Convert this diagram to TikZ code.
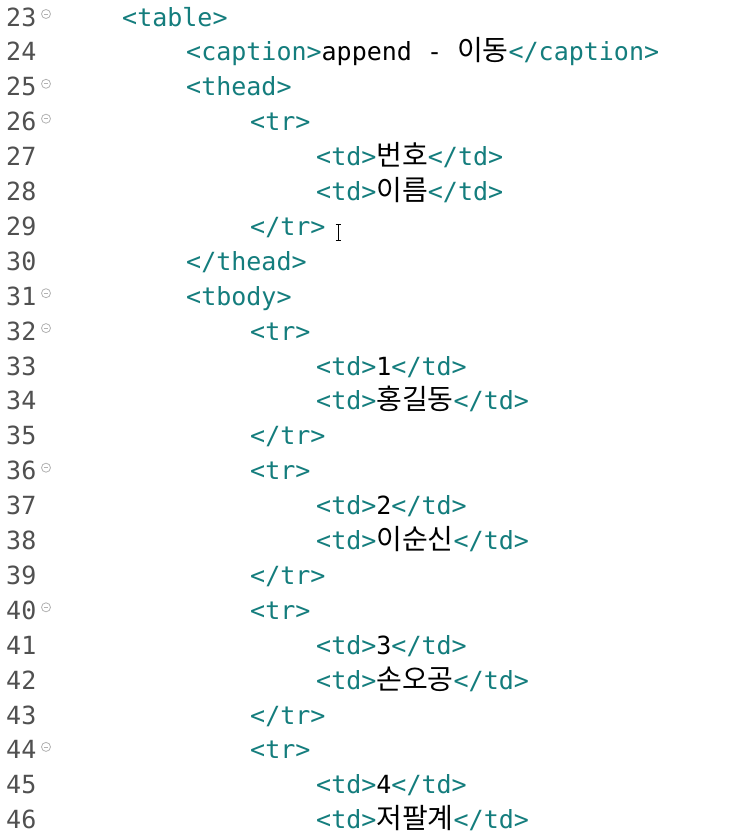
\documentclass[tikz,border=0pt]{standalone}
\usepackage{fontspec}
\setmonofont{DejaVu Sans Mono}
\newfontfamily\kr{Noto Sans CJK KR}[Scale=1.12]
\definecolor{tagc}{RGB}{20,125,125}
\definecolor{numc}{RGB}{80,80,80}
\newcommand{\Tg}[1]{\textcolor{tagc}{#1}}
\begin{document}
\begin{tikzpicture}[x=1pt,y=-1pt,
  code/.style={anchor=base west,inner sep=0pt,font=\ttfamily\fontsize{25}{25}\selectfont},
  num/.style={anchor=base west,inner sep=0pt,text=numc,font=\ttfamily\fontsize{25}{25}\selectfont},
  fold/.style={circle,draw=gray!60,line width=0.8pt,minimum size=9pt,inner sep=0pt}]
\useasboundingbox (0,0) rectangle (744,838);
\fill[white] (0,0) rectangle (744,838);
\newcommand{\codeline}[4]{%
  \pgfmathsetmacro{\yy}{17+34.9*(#1-23)+9}
  \node[num] (n#1) at (6,\yy) {#1};
  \node[code] (c#1) at (#2,\yy) {#3};
  \ifnum#4=1
    \node[fold] (f#1) at (46,\yy-12) {};
    \draw[gray!60,line width=0.8pt] ([xshift=-2.2pt]f#1.center) -- ([xshift=2.2pt]f#1.center);
  \fi}
\codeline{23}{122}{\Tg{<table>}}{1}
\codeline{24}{186}{\Tg{<caption>}append - {\kr 이동}\Tg{</caption>}}{0}
\codeline{25}{186}{\Tg{<thead>}}{1}
\codeline{26}{250}{\Tg{<tr>}}{1}
\codeline{27}{316}{\Tg{<td>}{\kr 번호}\Tg{</td>}}{0}
\codeline{28}{316}{\Tg{<td>}{\kr 이름}\Tg{</td>}}{0}
\codeline{29}{250}{\Tg{</tr>}}{0}
\codeline{30}{186}{\Tg{</thead>}}{0}
\codeline{31}{186}{\Tg{<tbody>}}{1}
\codeline{32}{250}{\Tg{<tr>}}{1}
\codeline{33}{316}{\Tg{<td>}1\Tg{</td>}}{0}
\codeline{34}{316}{\Tg{<td>}{\kr 홍길동}\Tg{</td>}}{0}
\codeline{35}{250}{\Tg{</tr>}}{0}
\codeline{36}{250}{\Tg{<tr>}}{1}
\codeline{37}{316}{\Tg{<td>}2\Tg{</td>}}{0}
\codeline{38}{316}{\Tg{<td>}{\kr 이순신}\Tg{</td>}}{0}
\codeline{39}{250}{\Tg{</tr>}}{0}
\codeline{40}{250}{\Tg{<tr>}}{1}
\codeline{41}{316}{\Tg{<td>}3\Tg{</td>}}{0}
\codeline{42}{316}{\Tg{<td>}{\kr 손오공}\Tg{</td>}}{0}
\codeline{43}{250}{\Tg{</tr>}}{0}
\codeline{44}{250}{\Tg{<tr>}}{1}
\codeline{45}{316}{\Tg{<td>}4\Tg{</td>}}{0}
\codeline{46}{316}{\Tg{<td>}{\kr 저팔계}\Tg{</td>}}{0}
% text cursor
\coordinate (ct) at (338,224);
\coordinate (cb) at (338,240);
\draw[black,line width=0.8pt] (ct) -- (cb);
\draw[black,line width=0.8pt] ([xshift=-2.5pt]ct) -- ([xshift=2.5pt]ct);
\draw[black,line width=0.8pt] ([xshift=-2.5pt]cb) -- ([xshift=2.5pt]cb);
\end{tikzpicture}
\end{document}
